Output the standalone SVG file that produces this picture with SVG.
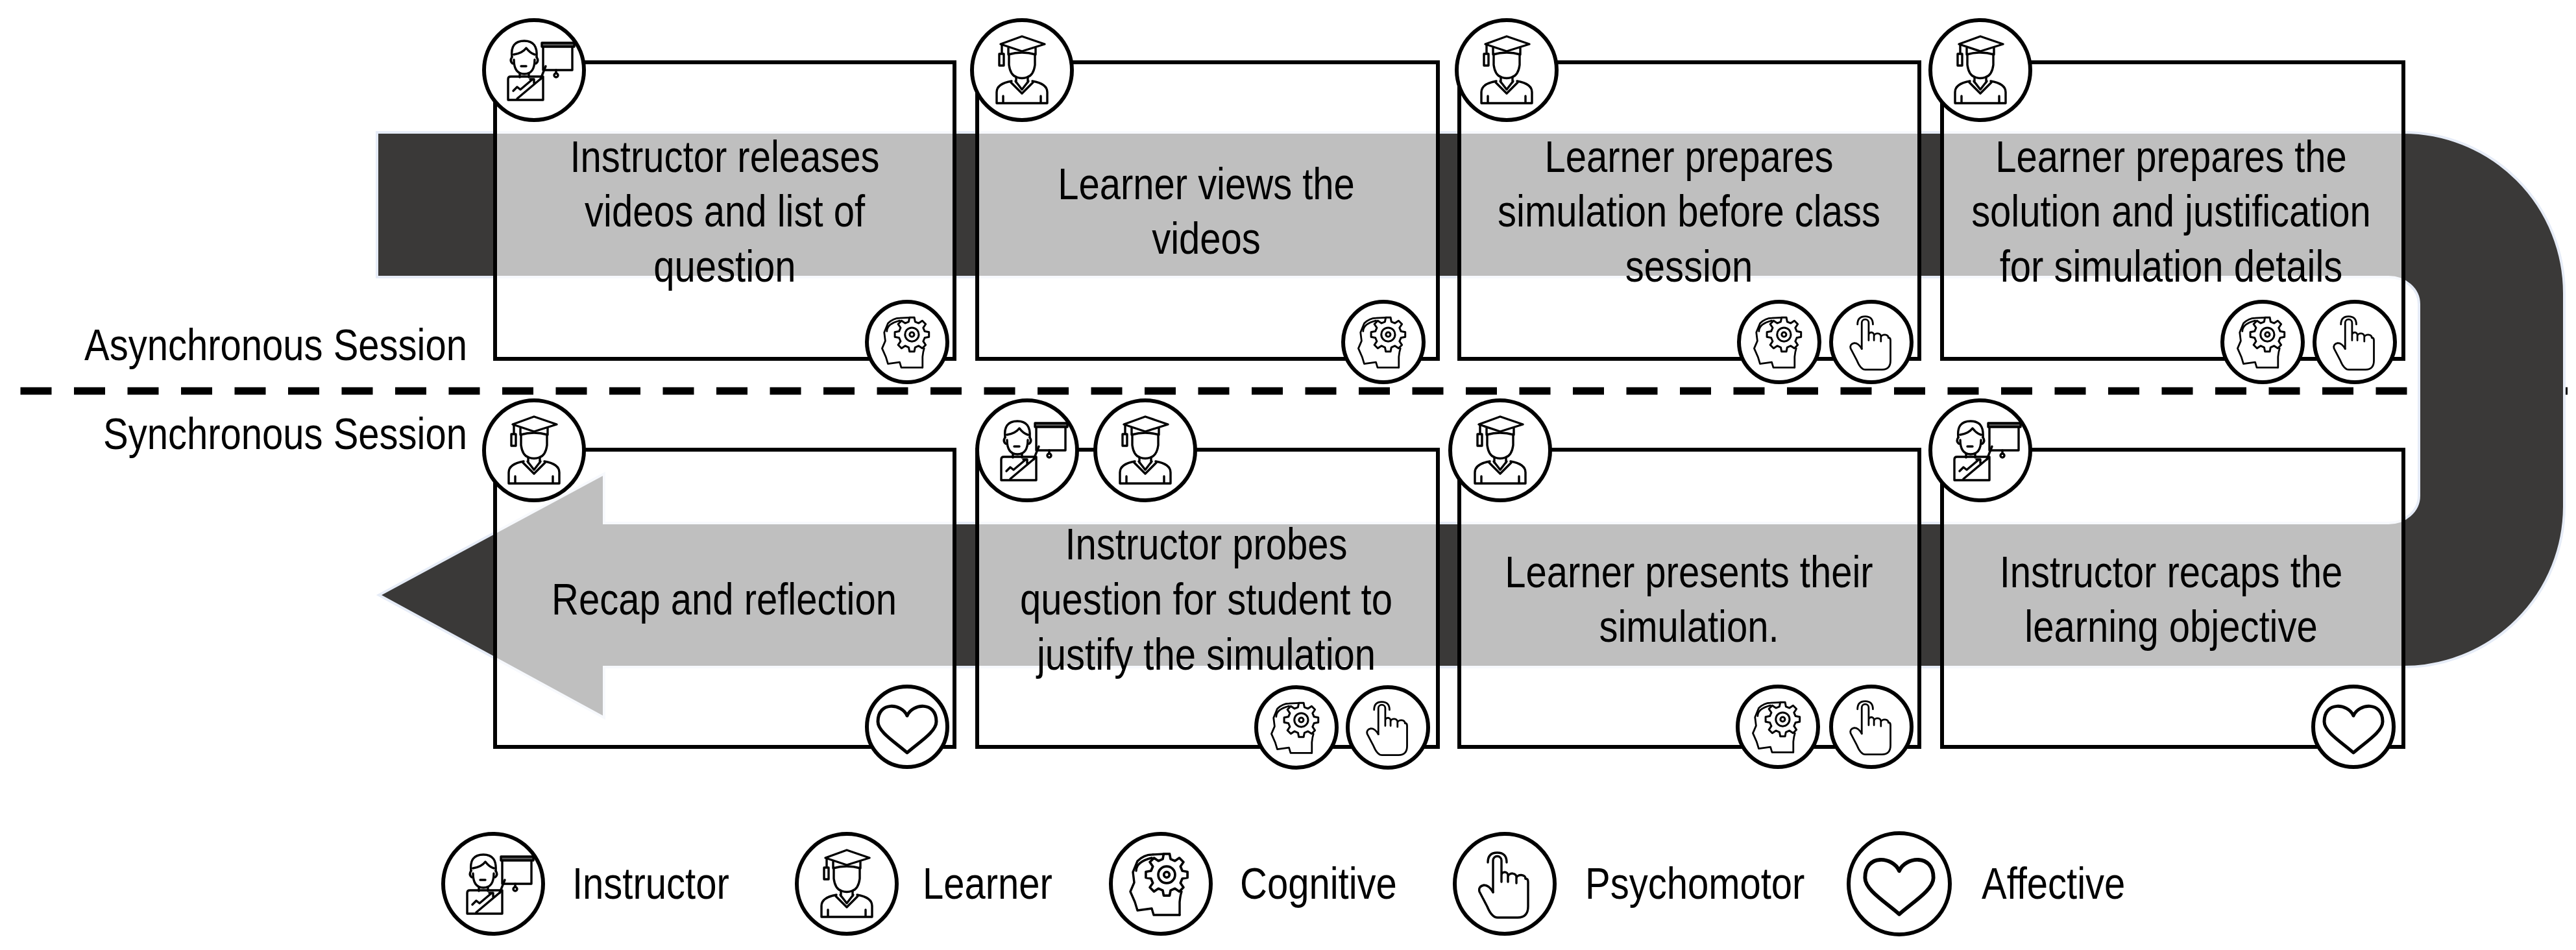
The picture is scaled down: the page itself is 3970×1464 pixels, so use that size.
<svg xmlns="http://www.w3.org/2000/svg" xmlns:xlink="http://www.w3.org/1999/xlink" width="3970" height="1464" viewBox="0 0 3970 1464">
<style>
text{font-family:"Liberation Sans",Arial,sans-serif;font-size:68px;fill:#000}
.m{text-anchor:middle}
.e{text-anchor:end}
.box{fill:#fff;fill-opacity:.68;stroke:#000;stroke-width:6}
.ring{fill:#fff;stroke:#000;stroke-width:6}
.ic{fill:none;stroke:#000;stroke-width:3.4;stroke-linejoin:round;stroke-linecap:round}
</style>
<defs>
<g id="i-learner" class="ic">
<path d="M0,-52L35,-40L0,-29L-33,-40Z"/>
<path d="M-21,-34V-24Q0,-30 21,-24V-34"/>
<path d="M-31,-39V-25M-35,-25h7v18h-7z"/>
<path d="M-20,-24V-8Q-18,8 -8,11Q0,14 8,11Q18,8 20,-8V-24"/>
<path d="M-9,11V19M9,11V19M-10,17L0,30L10,17M-17,19L0,36L17,19"/>
<path d="M-39,51V34Q-39,21 -16,17M39,51V34Q39,21 16,17M-39,51H39M-29,40V51M29,40V51"/>
</g>
<g id="i-instructor" class="ic">
<path d="M-31,-16Q-31,6 -15,6Q1,6 1,-16"/>
<path d="M-34,-20Q-37,-45 -15,-45Q6,-45 4,-20M-31,-24Q-18,-26 -12,-34Q-6,-26 1,-24"/>
<path d="M-34,-20q-4,6 1,10M4,-20q4,6 -1,10M-20,-6h8"/>
<path d="M-22,5V11M-8,5V11"/>
<rect x="14" y="-38" width="45" height="38"/>
<rect x="12" y="-42" width="50" height="6" fill="#555"/>
<path d="M34,0V5"/><circle cx="34" cy="8" r="3"/>
<path d="M10,14L18,-6"/>
<path d="M-40,14Q-40,10 -36,10H14V46H-40Z"/>
<path d="M-32,32L-26,26L-21,30L-2,14M-6,14H0V20M-26,44L12,12"/>
</g>
<g id="i-cognitive" class="ic">
<path d="M29,48H-11L-14,38L-36,41L-40,28L-47,12L-41,-2L-43,-18L-36,-35Q-26,-45 -14,-45L5,-46"/>
<path d="M29,48V28Q30,18 32,12"/>
<path d="M-38,-20Q-38,-34 -14,-40"/>
<g transform="translate(9,-14) scale(1.08)">
<path d="M22.3,-5.6L29.7,-4.2V4.2L22.3,5.6L19.7,11.8L24,18.1L18.1,24L11.8,19.7L5.6,22.3L4.2,29.7H-4.2L-5.6,22.3L-11.8,19.7L-18.1,24L-24,18.1L-19.7,11.8L-22.3,5.6L-29.7,4.2V-4.2L-22.3,-5.6L-19.7,-11.8L-24,-18.1L-18.1,-24L-11.8,-19.7L-5.6,-22.3L-4.2,-29.7H4.2L5.6,-22.3L11.8,-19.7L18.1,-24L24,-18.1L19.7,-11.8Z"/>
<circle r="12"/><circle r="4"/>
</g>
</g>
<g id="i-psychomotor" class="ic">
<path d="M-18,13V-36a6.5,6.5 0 0 1 13,0V-3V-13a5,5 0 0 1 10,0V-3M5,-11a6,5 0 0 1 13,1V-1M18,-9a7,5 0 0 1 14,1"/>
<path d="M32,-8Q36,-8 36,-3V35Q36,52 20,52H-11Q-20,52 -27,35L-39,12Q-41,4 -32,2Q-24,2 -18,13"/>
<path d="M-26,-33Q-26,-48 -11.5,-48Q3,-48 3,-33"/>
</g>
<path id="i-affective" fill="none" stroke="#000" stroke-width="5" stroke-linejoin="round" d="M0,-17C-8,-36 -45,-40 -45,-8C-45,8 -18,24 0,40C18,24 45,8 45,-8C45,-40 8,-36 0,-17Z"/>
</defs>

<g id="session-divider">
<path d="M31.5,602.5H3958" fill="none" stroke="#000" stroke-width="11.5" stroke-dasharray="48 34.5"/>
</g>

<g id="connectors">
<path fill="#3a3938" stroke="#e6ecf7" stroke-width="4" d="M581,204H3704A248,248 0 0 1 3952,452V781A248,248 0 0 1 3704,1028H931V1106L584,917L931,730V806H3680A47,42 0 0 0 3728,764V470A47,42 0 0 0 3680,427H581Z"/>
</g>

<g id="label-async"><text class="e" transform="translate(720,555) scale(.853,1)">Asynchronous Session</text></g>
<g id="label-sync"><text class="e" transform="translate(720,692) scale(.853,1)">Synchronous Session</text></g>

<g id="step1">
<rect class="box" x="763" y="96" width="708" height="457"/>
<text class="m" transform="translate(1117,265) scale(.853,1)">Instructor releases</text>
<text class="m" transform="translate(1117,349) scale(.853,1)">videos and list of</text>
<text class="m" transform="translate(1117,434) scale(.853,1)">question</text>
<circle class="ring" cx="823" cy="108" r="77"/><use href="#i-instructor" transform="translate(823,108)"/>
<circle class="ring" cx="1398" cy="527" r="62"/><use href="#i-cognitive" transform="translate(1398,527) scale(.82)"/>
</g>
<g id="step2">
<rect class="box" x="1506" y="96" width="710" height="457"/>
<text class="m" transform="translate(1859,307) scale(.853,1)">Learner views the</text>
<text class="m" transform="translate(1859,391) scale(.853,1)">videos</text>
<circle class="ring" cx="1575" cy="108" r="77"/><use href="#i-learner" transform="translate(1575,108)"/>
<circle class="ring" cx="2132" cy="527" r="62"/><use href="#i-cognitive" transform="translate(2132,527) scale(.82)"/>
</g>
<g id="step3">
<rect class="box" x="2249" y="96" width="709" height="457"/>
<text class="m" transform="translate(2603,265) scale(.853,1)">Learner prepares</text>
<text class="m" transform="translate(2603,349) scale(.853,1)">simulation before class</text>
<text class="m" transform="translate(2603,434) scale(.853,1)">session</text>
<circle class="ring" cx="2322" cy="108" r="77"/><use href="#i-learner" transform="translate(2322,108)"/>
<circle class="ring" cx="2742" cy="527" r="62"/><use href="#i-cognitive" transform="translate(2742,527) scale(.82)"/>
<circle class="ring" cx="2884" cy="527" r="62"/><use href="#i-psychomotor" transform="translate(2884,527) scale(.82)"/>
</g>
<g id="step4">
<rect class="box" x="2993" y="96" width="711" height="457"/>
<text class="m" transform="translate(3346,265) scale(.853,1)">Learner prepares the</text>
<text class="m" transform="translate(3346,349) scale(.853,1)">solution and justification</text>
<text class="m" transform="translate(3346,434) scale(.853,1)">for simulation details</text>
<circle class="ring" cx="3052" cy="108" r="77"/><use href="#i-learner" transform="translate(3052,108)"/>
<circle class="ring" cx="3487" cy="527" r="62"/><use href="#i-cognitive" transform="translate(3487,527) scale(.82)"/>
<circle class="ring" cx="3629" cy="527" r="62"/><use href="#i-psychomotor" transform="translate(3629,527) scale(.82)"/>
</g>
<g id="step5">
<rect class="box" x="763" y="693" width="708" height="458"/>
<text class="m" transform="translate(1116,947) scale(.853,1)">Recap and reflection</text>
<circle class="ring" cx="823" cy="694" r="77"/><use href="#i-learner" transform="translate(823,694)"/>
<circle class="ring" cx="1398" cy="1120" r="62"/><use href="#i-affective" transform="translate(1398,1120)"/>
</g>
<g id="step6">
<rect class="box" x="1506" y="693" width="710" height="458"/>
<text class="m" transform="translate(1859,862) scale(.853,1)">Instructor probes</text>
<text class="m" transform="translate(1859,947) scale(.853,1)">question for student to</text>
<text class="m" transform="translate(1859,1032) scale(.853,1)">justify the simulation</text>
<circle class="ring" cx="1583" cy="694" r="77"/><use href="#i-instructor" transform="translate(1583,694)"/>
<circle class="ring" cx="1765" cy="694" r="77"/><use href="#i-learner" transform="translate(1765,694)"/>
<circle class="ring" cx="1998" cy="1121" r="62"/><use href="#i-cognitive" transform="translate(1998,1121) scale(.82)"/>
<circle class="ring" cx="2139" cy="1121" r="62"/><use href="#i-psychomotor" transform="translate(2139,1121) scale(.82)"/>
</g>
<g id="step7">
<rect class="box" x="2249" y="693" width="709" height="458"/>
<text class="m" transform="translate(2603,905) scale(.853,1)">Learner presents their</text>
<text class="m" transform="translate(2603,989) scale(.853,1)">simulation.</text>
<circle class="ring" cx="2312" cy="694" r="77"/><use href="#i-learner" transform="translate(2312,694)"/>
<circle class="ring" cx="2740" cy="1120" r="62"/><use href="#i-cognitive" transform="translate(2740,1120) scale(.82)"/>
<circle class="ring" cx="2884" cy="1120" r="62"/><use href="#i-psychomotor" transform="translate(2884,1120) scale(.82)"/>
</g>
<g id="step8">
<rect class="box" x="2993" y="693" width="711" height="458"/>
<text class="m" transform="translate(3346,905) scale(.853,1)">Instructor recaps the</text>
<text class="m" transform="translate(3346,989) scale(.853,1)">learning objective</text>
<circle class="ring" cx="3052" cy="694" r="77"/><use href="#i-instructor" transform="translate(3052,694)"/>
<circle class="ring" cx="3627" cy="1120" r="62"/><use href="#i-affective" transform="translate(3627,1120)"/>
</g>

<g id="legend-instructor"><circle class="ring" cx="760" cy="1362" r="77"/><use href="#i-instructor" transform="translate(760,1362)"/>
<text transform="translate(882,1385) scale(.853,1)">Instructor</text></g>
<g id="legend-learner"><circle class="ring" cx="1305" cy="1362" r="77"/><use href="#i-learner" transform="translate(1305,1362)"/>
<text transform="translate(1422,1385) scale(.853,1)">Learner</text></g>
<g id="legend-cognitive"><circle class="ring" cx="1789" cy="1362" r="77"/><use href="#i-cognitive" transform="translate(1789,1362)"/>
<text transform="translate(1911,1385) scale(.853,1)">Cognitive</text></g>
<g id="legend-psychomotor"><circle class="ring" cx="2319" cy="1362" r="77"/><use href="#i-psychomotor" transform="translate(2319,1362)"/>
<text transform="translate(2443,1385) scale(.853,1)">Psychomotor</text></g>
<g id="legend-affective"><circle class="ring" cx="2927" cy="1362" r="78"/><use href="#i-affective" transform="translate(2927,1362) scale(1.17)"/>
<text transform="translate(3054,1385) scale(.853,1)">Affective</text></g>
</svg>
